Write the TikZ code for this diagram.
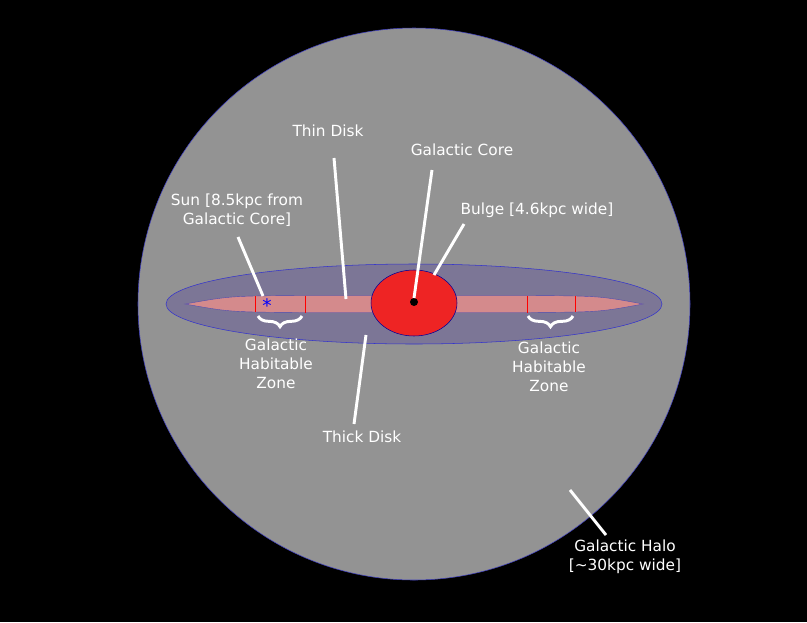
\documentclass[tikz,border=0pt]{standalone}
\usepackage{fontspec}
\setmainfont{DejaVu Sans}
\usetikzlibrary{decorations.pathreplacing}
\begin{document}
\begin{tikzpicture}[x=0.75pt,y=-0.75pt,
  lbl/.style={text=white,font=\fontsize{11.5}{14.2}\selectfont,align=center,inner sep=0pt},
  ptr/.style={white,line width=2.2pt},
  brc/.style={white,line width=2.2pt,decorate,decoration={brace,mirror,amplitude=8pt}},
  zl/.style={red,line width=0.7pt}]
\fill[black] (0,0) rectangle (807,622);
\useasboundingbox (0,0) rectangle (807,622);
\draw[fill=gray!85!white,draw=blue!50!gray] (414,304) ellipse [x radius=276,y radius=276];
\draw[fill={rgb,255:red,124;green,118;blue,150},draw=blue!60!gray] (414,304) ellipse [x radius=248,y radius=40];
\draw[fill={rgb,255:red,212;green,138;blue,140},draw=blue!40!gray,line width=0.3pt]
  (185,304) .. controls (230,296) .. (300,295.5) -- (530,295.5) .. controls (600,296) .. (643,304)
  .. controls (600,312) .. (530,312.5) -- (300,312.5) .. controls (230,312) .. cycle;
\draw[zl] (255,296) -- (255,312); \draw[zl] (305,295.5) -- (305,312.5);
\draw[zl] (527,295.5) -- (527,312.5); \draw[zl] (575,296) -- (575,312);
\draw[fill={rgb,255:red,238;green,36;blue,36},draw=blue!60!black] (414,303) ellipse [x radius=43,y radius=33];
\node[circle,fill=black,inner sep=0pt,minimum size=6pt] (core) at (414,302) {};
\node[text=blue,inner sep=0pt,font=\fontsize{14}{14}\selectfont] (sun) at (267,306) {*};
\node[lbl] (tsun) at (237,210) {Sun [8.5kpc from\\Galactic Core]};
\node[lbl] (tthin) at (328,131) {Thin Disk};
\node[lbl] (tcore) at (462,150) {Galactic Core};
\node[lbl] (tbulge) at (537,210) {Bulge [4.6kpc wide]};
\node[lbl] (thz1) at (276,364) {Galactic\\Habitable\\Zone};
\node[lbl] (thz2) at (549,367) {Galactic\\Habitable\\Zone};
\node[lbl] (tthick) at (362,437) {Thick Disk};
\node[lbl] (thalo) at (625,557) {Galactic Halo\\{[}\textasciitilde30kpc wide]};
\coordinate (a1) at (238,237); \coordinate (a2) at (263,296);
\coordinate (b1) at (334,158); \coordinate (b2) at (346,299);
\coordinate (c1) at (432,170); \coordinate (c2) at (414,298);
\coordinate (d1) at (464,224); \coordinate (d2) at (434,275);
\coordinate (e1) at (366,335); \coordinate (e2) at (354,424);
\coordinate (f1) at (570,490); \coordinate (f2) at (606,535);
\draw[ptr] (a1) -- (a2); \draw[ptr] (b1) -- (b2); \draw[ptr] (c1) -- (c2);
\draw[ptr] (d1) -- (d2); \draw[ptr] (e1) -- (e2); \draw[ptr] (f1) -- (f2);
\coordinate (g1) at (258,316); \coordinate (g2) at (302,316);
\coordinate (h1) at (528,316); \coordinate (h2) at (573,316);
\draw[brc] (g1) -- (g2); \draw[brc] (h1) -- (h2);
\end{tikzpicture}
\end{document}
